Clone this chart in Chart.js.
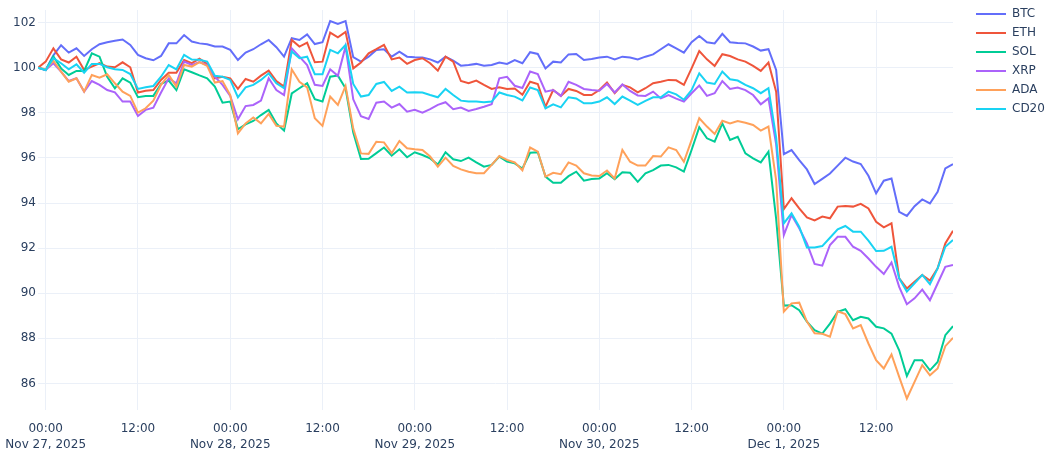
<!DOCTYPE html>
<html>
<head>
<meta charset="utf-8">
<script src="https://cdn.jsdelivr.net/npm/chart.js@4/dist/chart.umd.min.js"></script>
<style>
  html, body { margin: 0; background: #fff; }
  #wrap { width: 1050px; height: 457px; }
</style>
</head>
<body>
<div id="wrap"><canvas id="chart" width="1050" height="457"></canvas></div>
<script>
// hourly points, hours counted from Nov 27 00:00 (first point is Nov 26 23:00)
const hours = Array.from({ length: 120 }, (_, i) => i - 1);

const xTickHours = [0, 12, 24, 36, 48, 60, 72, 84, 96, 108];
const xTickLabels = [
  ['00:00', 'Nov 27, 2025'], '12:00',
  ['00:00', 'Nov 28, 2025'], '12:00',
  ['00:00', 'Nov 29, 2025'], '12:00',
  ['00:00', 'Nov 30, 2025'], '12:00',
  ['00:00', 'Dec 1, 2025'], '12:00'
];
const yTicks = [86, 88, 90, 92, 94, 96, 98, 100, 102];

const btc = [
  100.0, 99.9, 100.55, 101.0, 100.67, 100.86, 100.52, 100.82, 101.04, 101.13,
  101.2, 101.25, 101.01, 100.57, 100.42, 100.33, 100.52, 101.08, 101.08, 101.45,
  101.16, 101.08, 101.04, 100.94, 100.94, 100.79, 100.34, 100.67, 100.82, 101.04,
  101.23, 100.91, 100.49, 101.31, 101.23, 101.48, 101.05, 101.13, 102.07, 101.94,
  102.07, 100.47, 100.27, 100.49, 100.79, 100.82, 100.49, 100.71, 100.49, 100.46,
  100.45, 100.37, 100.23, 100.49, 100.31, 100.09, 100.12, 100.17, 100.09, 100.12,
  100.23, 100.17, 100.34, 100.2, 100.69, 100.61, 99.97, 100.27, 100.23, 100.59,
  100.61, 100.34, 100.39, 100.45, 100.49, 100.37, 100.49, 100.45, 100.37, 100.49,
  100.59, 100.82, 101.04, 100.86, 100.67, 101.13, 101.41, 101.13, 101.08, 101.5,
  101.13, 101.1, 101.08, 100.94, 100.76, 100.82, 99.9, 96.17, 96.35, 95.9,
  95.49, 94.84, 95.07, 95.31, 95.66, 96.01, 95.84, 95.73, 95.21, 94.43,
  94.99, 95.09, 93.61, 93.43, 93.86, 94.16, 93.98, 94.5, 95.53, 95.73
];
const eth = [
  100.0, 100.27, 100.86, 100.37, 100.23, 100.49, 99.9, 100.05, 100.2, 100.05,
  100.02, 100.24, 100.02, 98.9, 98.98, 99.01, 99.46, 99.78, 99.78, 100.34,
  100.2, 100.4, 100.17, 99.53, 99.6, 99.53, 99.06, 99.5, 99.38, 99.65,
  99.87, 99.41, 99.16, 101.23, 100.94, 101.11, 100.24, 100.27, 101.56, 101.35,
  101.59, 99.97, 100.23, 100.64, 100.82, 101.01, 100.37, 100.45, 100.17, 100.34,
  100.42, 100.2, 99.87, 100.49, 100.27, 99.41, 99.31, 99.43, 99.24, 99.06,
  99.13, 99.06, 99.08, 98.8, 99.38, 99.28, 98.27, 99.01, 98.75, 99.06,
  98.97, 98.79, 98.79, 99.01, 99.34, 98.87, 99.24, 99.13, 98.91, 99.09,
  99.31, 99.38, 99.46, 99.44, 99.24, 99.97, 100.74, 100.37, 100.08, 100.6,
  100.52, 100.37, 100.27, 100.08, 99.86, 100.23, 98.94, 93.73, 94.21, 93.76,
  93.36, 93.23, 93.4, 93.32, 93.84, 93.87, 93.84, 93.96, 93.76, 93.17,
  92.92, 93.1, 90.66, 90.21, 90.51, 90.81, 90.56, 91.1, 92.21, 92.77
];
const sol = [
  100.0, 99.9, 100.5, 99.97, 99.68, 99.86, 99.86, 100.64, 100.49, 99.6,
  99.09, 99.53, 99.34, 98.69, 98.75, 98.75, 99.28, 99.43, 99.01, 99.93,
  99.8, 99.66, 99.53, 99.16, 98.45, 98.5, 97.27, 97.49, 97.64, 97.9,
  98.13, 97.53, 97.21, 98.86, 99.09, 99.31, 98.6, 98.5, 99.6, 99.65,
  99.09, 97.13, 95.95, 95.96, 96.21, 96.46, 96.1, 96.38, 96.03, 96.25,
  96.13, 95.98, 95.71, 96.25, 95.94, 95.86, 96.01, 95.8, 95.61, 95.69,
  96.06, 95.84, 95.76, 95.53, 96.23, 96.25, 95.17, 94.9, 94.9, 95.19,
  95.39, 94.99, 95.06, 95.09, 95.32, 95.06, 95.36, 95.34, 94.94, 95.32,
  95.46, 95.66, 95.69, 95.58, 95.39, 96.35, 97.36, 96.87, 96.72, 97.53,
  96.8, 96.94, 96.2, 95.98, 95.8, 96.28, 93.3, 89.45, 89.47, 89.25,
  88.74, 88.36, 88.21, 88.65, 89.17, 89.29, 88.8, 88.95, 88.88, 88.51,
  88.44, 88.21, 87.47, 86.33, 87.03, 87.03, 86.58, 86.95, 88.14, 88.54
];
const xrp = [
  100.0, 99.9, 100.2, 99.83, 99.41, 99.53, 98.94, 99.41, 99.24, 99.01,
  98.91, 98.5, 98.5, 97.86, 98.13, 98.23, 98.9, 99.53, 99.31, 100.27,
  100.12, 100.25, 100.12, 99.6, 99.24, 98.75, 97.71, 98.3, 98.35, 98.54,
  99.53, 99.01, 98.79, 100.86, 100.49, 100.12, 99.24, 99.19, 99.93, 99.64,
  100.94, 98.6, 97.85, 97.73, 98.45, 98.5, 98.23, 98.39, 98.05, 98.13,
  98.01, 98.16, 98.35, 98.47, 98.16, 98.23, 98.08, 98.17, 98.27, 98.38,
  99.53, 99.6, 99.2, 99.1, 99.83, 99.72, 98.94, 99.01, 98.75, 99.38,
  99.24, 99.06, 99.01, 98.98, 99.28, 98.9, 99.26, 98.97, 98.77, 98.75,
  98.94, 98.64, 98.79, 98.63, 98.5, 98.87, 99.21, 98.75, 98.87, 99.41,
  99.06, 99.12, 99.01, 98.79, 98.38, 98.64, 96.6, 92.58, 93.47, 92.88,
  92.21, 91.3, 91.22, 92.14, 92.5, 92.5, 92.06, 91.88, 91.54, 91.17,
  90.85, 91.36, 90.28, 89.51, 89.77, 90.16, 89.69, 90.43, 91.17, 91.25
];
const ada = [
  100.0, 99.93, 100.31, 99.83, 99.38, 99.53, 98.94, 99.68, 99.56, 99.71,
  99.31, 98.94, 98.75, 98.01, 98.2, 98.54, 99.24, 99.68, 99.16, 100.12,
  100.05, 100.25, 100.08, 99.34, 99.41, 98.79, 97.09, 97.53, 97.79, 97.53,
  97.95, 97.42, 97.39, 99.93, 99.38, 99.13, 97.76, 97.42, 98.72, 98.35,
  99.19, 97.3, 96.2, 96.18, 96.72, 96.69, 96.21, 96.75, 96.43, 96.38,
  96.35, 96.06, 95.61, 96.01, 95.64, 95.49, 95.39, 95.32, 95.32, 95.69,
  96.08, 95.91, 95.8, 95.45, 96.46, 96.28, 95.17, 95.34, 95.28, 95.8,
  95.66, 95.32, 95.22, 95.2, 95.44, 95.09, 96.35, 95.83, 95.66, 95.66,
  96.08, 96.06, 96.47, 96.35, 95.83, 96.79, 97.76, 97.39, 97.06, 97.65,
  97.53, 97.64, 97.56, 97.46, 97.21, 97.39, 95.0, 89.18, 89.55, 89.58,
  88.74, 88.22, 88.2, 88.07, 89.2, 89.07, 88.44, 88.59, 87.77, 87.03,
  86.66, 87.28, 86.29, 85.33, 86.07, 86.81, 86.36, 86.66, 87.65, 88.02
];
const cd20 = [
  100.0, 99.9, 100.42, 100.2, 99.93, 100.15, 99.78, 100.17, 100.17, 100.02,
  99.93, 99.9, 99.72, 99.06, 99.13, 99.19, 99.6, 100.12, 99.93, 100.57,
  100.36, 100.35, 100.27, 99.64, 99.6, 99.46, 98.69, 99.13, 99.24, 99.46,
  99.75, 99.31, 99.09, 100.72, 100.42, 100.49, 99.71, 99.71, 100.79, 100.64,
  101.01, 99.28, 98.72, 98.79, 99.28, 99.37, 98.97, 99.16, 98.9, 98.91,
  98.9, 98.79, 98.69, 99.06, 98.79, 98.54, 98.5, 98.5, 98.47, 98.5,
  98.9, 98.79, 98.72, 98.55, 99.12, 99.01, 98.2, 98.38, 98.24, 98.69,
  98.64, 98.42, 98.42, 98.5, 98.69, 98.39, 98.72, 98.54, 98.35, 98.53,
  98.69, 98.69, 98.94, 98.82, 98.58, 99.01, 99.75, 99.34, 99.28, 99.83,
  99.49, 99.43, 99.24, 99.09, 98.87, 99.09, 96.9, 93.1, 93.54, 92.95,
  92.03, 92.03, 92.09, 92.46, 92.83, 92.98, 92.73, 92.73, 92.33, 91.87,
  91.88, 92.06, 90.66, 90.07, 90.44, 90.81, 90.4, 91.1, 92.06, 92.36
];

const names = ['BTC', 'ETH', 'SOL', 'XRP', 'ADA', 'CD20'];
const series = [btc, eth, sol, xrp, ada, cd20];
const colors = ['#636efa', '#ef553b', '#00cc96', '#ab63fa', '#ffa15a', '#19d3f3'];

const textColor = '#2a3f5f';
const gridColor = '#ebf0f8';

Chart.defaults.font.family = '"DejaVu Sans", Verdana, sans-serif';
Chart.defaults.font.size = 12;
Chart.defaults.color = textColor;

const datasets = series.map((values, i) => ({
  label: names[i],
  data: values,
  borderColor: colors[i],
  backgroundColor: colors[i],
  borderWidth: 2,
  pointRadius: 0,
  tension: 0,
  order: series.length - i // later traces drawn on top
}));

new Chart(document.getElementById('chart'), {
  type: 'line',
  data: { labels: hours, datasets },
  options: {
    responsive: false,
    animation: false,
    layout: { padding: { top: 1, right: 0, bottom: 0, left: 0 } },
    plugins: {
      tooltip: { enabled: false },
      legend: {
        position: 'right',
        align: 'start',
        maxWidth: 81,
        labels: {
          boxWidth: 30,
          boxHeight: 2,
          padding: 7,
          color: textColor,
          sort: (a, b) => a.datasetIndex - b.datasetIndex,
          generateLabels: (chart) =>
            Chart.defaults.plugins.legend.labels.generateLabels(chart)
              .map(l => ({ ...l, lineWidth: 0 }))
        }
      }
    },
    scales: {
      x: {
        type: 'linear',
        min: -1,
        max: 118,
        border: { display: false },
        grid: { color: gridColor, drawTicks: false },
        ticks: {
          padding: 11,
          maxRotation: 0,
          autoSkip: false,
          font: { lineHeight: 1.3 },
          callback: (v) => {
            const k = xTickHours.indexOf(v);
            return k >= 0 ? xTickLabels[k] : '';
          }
        },
        afterBuildTicks: (s) => { s.ticks = xTickHours.map(v => ({ value: v })); },
        afterFit: (s) => {
          s.height = 47;
          // labels may hang past the plot edges, like the reference
          s.paddingLeft = 0;
          s.paddingRight = 0;
        }
      },
      y: {
        min: 84.82,
        max: 102.56,
        border: { display: false },
        grid: { color: gridColor, drawTicks: false },
        ticks: { padding: 2 },
        afterBuildTicks: (s) => { s.ticks = yTicks.map(v => ({ value: v })); },
        afterFit: (s) => { s.width = 38; }
      },
      // spacers so the plot area sits where the reference has it
      xTop: {
        type: 'linear',
        position: 'top',
        grid: { display: false },
        border: { display: false },
        ticks: { display: false },
        afterFit: (s) => { s.height = 9; }
      },
      yRight: {
        type: 'linear',
        position: 'right',
        grid: { display: false },
        border: { display: false },
        ticks: { display: false },
        afterFit: (s) => { s.width = 16; }
      }
    }
  }
});
</script>
</body>
</html>
